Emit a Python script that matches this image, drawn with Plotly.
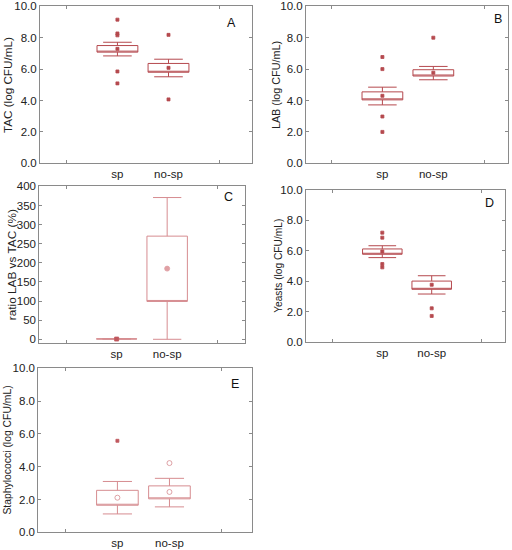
import plotly.graph_objects as go

W, H = 512, 550

groups = ["sp", "no-sp"]
xpos = [1, 2]

# A - total aerobic count
tac_lo = [6.84, 5.51]
tac_q1 = [7.08, 5.80]
tac_mean = [7.29, 6.08]
tac_q3 = [7.50, 6.36]
tac_hi = [7.71, 6.63]
tac_out_sp = [9.15, 8.27, 8.15, 5.85, 5.09]
tac_out_nosp = [8.18, 4.07]

# B - lactic acid bacteria
lab_lo = [3.72, 5.32]
lab_q1 = [4.04, 5.56]
lab_mean = [4.30, 5.77]
lab_q3 = [4.55, 5.96]
lab_hi = [4.85, 6.17]
lab_out_sp = [6.77, 6.00, 2.98, 2.00]
lab_out_nosp = [8.00]

# C - ratio LAB vs TAC
ratio_lo = [0.5, 0]
ratio_q1 = [0.8, 99]
ratio_mean = [0.6, 185]
ratio_q3 = [1.2, 270]
ratio_hi = [1.5, 371]

# D - yeasts
yst_lo = [5.56, 3.17]
yst_q1 = [5.78, 3.48]
yst_mean = [5.97, 3.78]
yst_q3 = [6.13, 4.02]
yst_hi = [6.34, 4.37]
yst_out_sp = [7.20, 6.87, 5.14, 4.92]
yst_out_nosp = [2.23, 1.73]

# E - staphylococci
sta_lo = [1.12, 1.55]
sta_q1 = [1.65, 2.04]
sta_mean = [2.11, 2.46]
sta_q3 = [2.56, 2.83]
sta_hi = [3.10, 3.29]
sta_out_sp = [5.58]
sta_out_nosp = [4.22]

dark = "#b5494e"
light = "#d68c90"


def dom(a, b, size, flip=False):
    if flip:
        return [1 - b / size, 1 - a / size]
    return [a / size, b / size]


panels = [
    # axis suffix, x px, y px, x range, y range
    ("", (40, 252), (6.3, 163.3), [-0.516, 3.635], [0, 10]),
    ("2", (306, 507.7), (6.3, 163.3), [-0.5, 3.46], [0, 10]),
    ("3", (39.3, 245), (185.7, 343.3), [-0.53, 3.54], [-10.5, 402]),
    ("4", (306, 505.3), (190, 342.3), [-0.545, 3.49], [0, 10]),
    ("5", (38.3, 251.7), (368.3, 532.3), [-0.52, 3.58], [0, 10]),
]

fig = go.Figure()


def add_box(k, lo, q1, q3, hi, color):
    fig.add_trace(go.Box(
        x=xpos, q1=q1, median=q1, q3=q3, lowerfence=lo, upperfence=hi,
        width=0.8, whiskerwidth=0.7, fillcolor="rgba(0,0,0,0)",
        line=dict(color=color, width=1.0),
        xaxis="x" + k, yaxis="y" + k, showlegend=False, hoverinfo="skip"))


def add_pts(k, x, y, color, symbol="square", size=3):
    fig.add_trace(go.Scatter(
        x=x, y=y, mode="markers", xaxis="x" + k, yaxis="y" + k,
        marker=dict(color=color, symbol=symbol, size=size,
                    line=dict(color=color, width=0.8)),
        showlegend=False, hoverinfo="skip"))


add_box("", tac_lo, tac_q1, tac_q3, tac_hi, dark)
add_pts("", xpos, tac_mean, dark)
add_pts("", [1] * len(tac_out_sp), tac_out_sp, dark)
add_pts("", [2] * len(tac_out_nosp), tac_out_nosp, dark)

add_box("2", lab_lo, lab_q1, lab_q3, lab_hi, dark)
add_pts("2", xpos, lab_mean, dark)
add_pts("2", [1] * len(lab_out_sp), lab_out_sp, dark)
add_pts("2", [2] * len(lab_out_nosp), lab_out_nosp, dark)

add_box("3", ratio_lo, ratio_q1, ratio_q3, ratio_hi, light)
add_pts("3", xpos[:1], ratio_mean[:1], "#c0585e", "square", 4)
add_pts("3", xpos[1:], ratio_mean[1:], "#e0a0a4", "circle", 5)

add_box("4", yst_lo, yst_q1, yst_q3, yst_hi, dark)
add_pts("4", xpos, yst_mean, dark)
add_pts("4", [1] * len(yst_out_sp), yst_out_sp, dark)
add_pts("4", [2] * len(yst_out_nosp), yst_out_nosp, dark)

add_box("5", sta_lo, sta_q1, sta_q3, sta_hi, light)
add_pts("5", xpos, sta_mean, light, "circle-open", 5)
add_pts("5", [1] * len(sta_out_sp), sta_out_sp, "#c0585e")
add_pts("5", [2] * len(sta_out_nosp), sta_out_nosp, light, "circle-open", 5)

axis_line = dict(showline=True, linecolor="#8a8a8a", linewidth=1, mirror="ticks",
                 showgrid=False, zeroline=False, automargin=False,
                 ticklabeloverflow="allow")
font_tick = dict(family="Liberation Sans, Arial", size=11.5, color="#222")

layout = dict(width=W, height=H, margin=dict(l=0, r=0, t=0, b=0),
              paper_bgcolor="white", plot_bgcolor="white")
for k, xp, yp, xr, yr in panels:
    layout["xaxis" + k] = dict(
        domain=dom(*xp, W), range=xr, anchor="y" + k,
        tickvals=xpos, ticktext=groups, ticks="", tickfont=font_tick,
        minor=dict(tick0=0, dtick=3, ticks="inside", ticklen=3, tickcolor="#8a8a8a"),
        **axis_line)
    ydict = dict(
        domain=dom(*yp, H, flip=True), range=yr, anchor="x" + k,
        ticks="inside", ticklen=3, tickcolor="#8a8a8a", tickfont=font_tick,
        **axis_line)
    if k == "3":
        ydict.update(tickvals=list(range(0, 401, 50)))
    else:
        ydict.update(tickvals=[0, 2, 4, 6, 8, 10], tickformat=".1f")
    layout["yaxis" + k] = ydict
fig.update_layout(**layout)

y_titles = ["TAC (log CFU/mL)", "LAB (log CFU/mL)", "ratio LAB vs TAC (%)",
            "Yeasts (log CFU/mL)", "Staphylococci (log CFU/mL)"]
title_x = [8.3, 275.3, 11.7, 277.7, 7.3]
title_size = [11.7, 10.8, 11.8, 10.2, 10.4]
letters = ["A", "B", "C", "D", "E"]
letter_xy = [(231, 22.7), (497.7, 19.3), (228.3, 197.3), (489.3, 203.3), (235, 384)]

for (k, xp, yp, xr, yr), t, tx, ts, lt, (lx, ly) in zip(
        panels, y_titles, title_x, title_size, letters, letter_xy):
    fig.add_annotation(text=t, textangle=-90, xref="paper", yref="paper",
                       x=tx / W, y=1 - (yp[0] + yp[1]) / 2 / H, showarrow=False,
                       xanchor="center", yanchor="middle",
                       font=dict(family="Liberation Sans, Arial", size=ts, color="#222"))
    fig.add_annotation(text=lt, xref="paper", yref="paper", x=lx / W, y=1 - ly / H,
                       showarrow=False, xanchor="center", yanchor="middle",
                       font=dict(family="Liberation Sans, Arial", size=12.5, color="#111"))

# page body has a default 8px margin; drop it so the figure sits at the corner
fig.write_html("out.html", config={"displayModeBar": False},
               post_script="document.body.style.margin='0';")
